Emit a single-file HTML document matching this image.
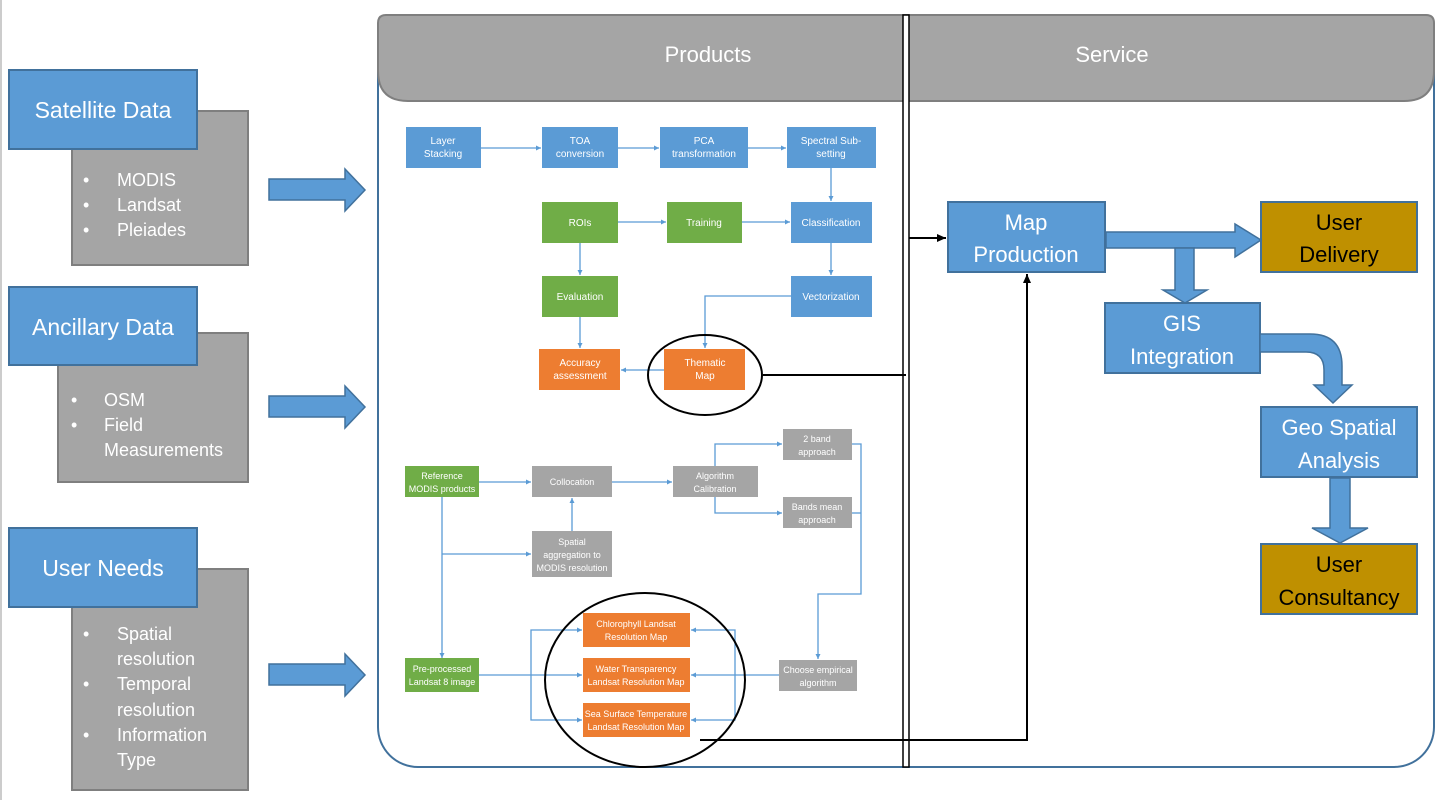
<!DOCTYPE html>
<html><head><meta charset="utf-8"><style>
body{margin:0;background:#fff}
svg{display:block}
text{font-family:"Liberation Sans",sans-serif}
</style></head><body>
<svg width="1439" height="800" viewBox="0 0 1439 800" xmlns="http://www.w3.org/2000/svg">
<defs>
<marker id="a" markerWidth="6" markerHeight="6" refX="5" refY="3" orient="auto" markerUnits="userSpaceOnUse"><path d="M0,0.5 L5,3 L0,5.5z" fill="#5B9BD5"/></marker>
<marker id="k" markerWidth="10" markerHeight="10" refX="9" refY="5" orient="auto" markerUnits="userSpaceOnUse"><path d="M0,1 L9,5 L0,9z" fill="#000"/></marker>
</defs>
<line x1="1" y1="0" x2="1" y2="800" stroke="#ccc" stroke-width="2"/>

<!-- left column -->
<g stroke-width="2">
<rect x="72" y="111" width="176" height="154" fill="#A5A5A5" stroke="#7F7F7F"/>
<rect x="9" y="70" width="188" height="79" fill="#5B9BD5" stroke="#41719C"/>
<rect x="58" y="333" width="190" height="149" fill="#A5A5A5" stroke="#7F7F7F"/>
<rect x="9" y="287" width="188" height="78" fill="#5B9BD5" stroke="#41719C"/>
<rect x="72" y="569" width="176" height="221" fill="#A5A5A5" stroke="#7F7F7F"/>
<rect x="9" y="528" width="188" height="79" fill="#5B9BD5" stroke="#41719C"/>
</g>
<g fill="#fff" font-size="23">
<text x="103" y="118" text-anchor="middle">Satellite Data</text>
<text x="103" y="335" text-anchor="middle">Ancillary Data</text>
<text x="103" y="576" text-anchor="middle">User Needs</text>
</g>
<g fill="#fff" font-size="18">
<text x="83" y="186">•</text><text x="117" y="186">MODIS</text>
<text x="83" y="211">•</text><text x="117" y="211">Landsat</text>
<text x="83" y="236">•</text><text x="117" y="236">Pleiades</text>
<text x="71" y="406">•</text><text x="104" y="406">OSM</text>
<text x="71" y="431">•</text><text x="104" y="431">Field</text>
<text x="104" y="456">Measurements</text>
<text x="83" y="640">•</text><text x="117" y="640">Spatial</text>
<text x="117" y="665">resolution</text>
<text x="83" y="690">•</text><text x="117" y="690">Temporal</text>
<text x="117" y="716">resolution</text>
<text x="83" y="741">•</text><text x="117" y="741">Information</text>
<text x="117" y="766">Type</text>
</g>
<g fill="#5B9BD5" stroke="#41719C" stroke-width="1.5">
<path d="M269,179 H345 V169 L365,190 L345,211 V200 H269z"/>
<path d="M269,396 H345 V386 L365,407 L345,428 V417 H269z"/>
<path d="M269,664 H345 V654 L365,675 L345,696 V685 H269z"/>
</g>

<!-- main container -->
<rect x="378" y="15" width="1056" height="752" rx="40" fill="#fff" stroke="#41719C" stroke-width="2"/>
<path d="M386,15 H1426 Q1434,15 1434,23 V71 Q1434,101 1404,101 H408 Q378,101 378,71 V23 Q378,15 386,15z" fill="#A5A5A5" stroke="#7F7F7F" stroke-width="2"/>
<text x="708" y="62" fill="#fff" font-size="22" text-anchor="middle">Products</text>
<text x="1112" y="62" fill="#fff" font-size="22" text-anchor="middle">Service</text>
<rect x="903" y="15" width="6" height="752" fill="#fff" stroke="#000" stroke-width="1.5"/>

<!-- small flow boxes -->
<g font-size="10" fill="#fff" text-anchor="middle">
<rect x="406" y="127" width="75" height="41" fill="#5B9BD5"/><text x="443" y="144">Layer</text><text x="443" y="157">Stacking</text>
<rect x="542" y="127" width="76" height="41" fill="#5B9BD5"/><text x="580" y="144">TOA</text><text x="580" y="157">conversion</text>
<rect x="660" y="127" width="88" height="41" fill="#5B9BD5"/><text x="704" y="144">PCA</text><text x="704" y="157">transformation</text>
<rect x="787" y="127" width="89" height="41" fill="#5B9BD5"/><text x="831" y="144">Spectral Sub-</text><text x="831" y="157">setting</text>
<rect x="542" y="202" width="76" height="41" fill="#70AD47"/><text x="580" y="226">ROIs</text>
<rect x="667" y="202" width="75" height="41" fill="#70AD47"/><text x="704" y="226">Training</text>
<rect x="791" y="202" width="81" height="41" fill="#5B9BD5"/><text x="831" y="226">Classification</text>
<rect x="542" y="276" width="76" height="41" fill="#70AD47"/><text x="580" y="300">Evaluation</text>
<rect x="791" y="276" width="81" height="41" fill="#5B9BD5"/><text x="831" y="300">Vectorization</text>
<rect x="539" y="349" width="81" height="41" fill="#ED7D31"/><text x="580" y="366">Accuracy</text><text x="580" y="379">assessment</text>
<rect x="664" y="349" width="81" height="41" fill="#ED7D31"/><text x="705" y="366">Thematic</text><text x="705" y="379">Map</text>

<g font-size="9">
<rect x="405" y="466" width="74" height="31" fill="#70AD47"/><text x="442" y="479">Reference</text><text x="442" y="492">MODIS products</text>
<rect x="532" y="466" width="80" height="31" fill="#A5A5A5"/><text x="572" y="485">Collocation</text>
<rect x="673" y="466" width="85" height="31" fill="#A5A5A5"/><text x="715" y="479">Algorithm</text><text x="715" y="492">Calibration</text>
<rect x="783" y="429" width="69" height="31" fill="#A5A5A5"/><text x="817" y="442">2 band</text><text x="817" y="455">approach</text>
<rect x="783" y="497" width="69" height="31" fill="#A5A5A5"/><text x="817" y="510">Bands mean</text><text x="817" y="523">approach</text>
<rect x="532" y="531" width="80" height="46" fill="#A5A5A5"/><text x="572" y="545">Spatial</text><text x="572" y="558">aggregation to</text><text x="572" y="571">MODIS resolution</text>
<rect x="405" y="658" width="74" height="34" fill="#70AD47"/><text x="442" y="672">Pre-processed</text><text x="442" y="685">Landsat 8 image</text>
<rect x="583" y="613" width="107" height="34" fill="#ED7D31"/><text x="636" y="627">Chlorophyll Landsat</text><text x="636" y="640">Resolution Map</text>
<rect x="583" y="658" width="107" height="34" fill="#ED7D31"/><text x="636" y="672">Water Transparency</text><text x="636" y="685">Landsat Resolution Map</text>
<rect x="583" y="703" width="107" height="34" fill="#ED7D31"/><text x="636" y="717">Sea Surface Temperature</text><text x="636" y="730">Landsat Resolution Map</text>
<rect x="779" y="660" width="78" height="31" fill="#A5A5A5"/><text x="818" y="673">Choose empirical</text><text x="818" y="686">algorithm</text>
</g>
</g>

<!-- thin blue connectors -->
<g stroke="#5B9BD5" stroke-width="1.3" fill="none" marker-end="url(#a)">
<path d="M481,148 H541"/><path d="M618,148 H659"/><path d="M748,148 H786"/>
<path d="M831,168 V201"/>
<path d="M618,222 H666"/><path d="M742,222 H790"/>
<path d="M831,243 V275"/>
<path d="M580,243 V275"/><path d="M580,317 V348"/>
<path d="M791,296 H705 V348"/>
<path d="M664,370 H621"/>
<path d="M479,482 H531"/><path d="M612,482 H672"/>
<path d="M715,466 V444 H782"/><path d="M715,497 V513 H782"/>
<path d="M572,531 V498"/>
<path d="M442,497 V658"/><path d="M442,554 H531"/>
<path d="M852,444 H861 V594 H818 V659"/>
<path d="M852,513 H861" marker-end="none"/>
<path d="M479,675 H582"/>
<path d="M531,675 V630 H582"/><path d="M531,675 V720 H582"/>
<path d="M779,675 H691"/>
<path d="M735,675 V630 H691"/><path d="M735,675 V720 H691"/>
</g>

<!-- ellipses and black connectors -->
<ellipse cx="705" cy="375" rx="57" ry="40" fill="none" stroke="#000" stroke-width="2"/>
<ellipse cx="645" cy="680" rx="100" ry="87" fill="none" stroke="#000" stroke-width="2"/>
<path d="M763,375 H906" stroke="#000" stroke-width="2" fill="none"/>
<path d="M700,740 H1027 V274" stroke="#000" stroke-width="2" fill="none" marker-end="url(#k)"/>
<path d="M909,238 H946" stroke="#000" stroke-width="2" fill="none" marker-end="url(#k)"/>

<!-- right side boxes -->
<g stroke-width="2">
<rect x="948" y="202" width="157" height="70" fill="#5B9BD5" stroke="#41719C"/>
<rect x="1261" y="202" width="156" height="70" fill="#BF9000" stroke="#41719C"/>
<rect x="1105" y="303" width="155" height="70" fill="#5B9BD5" stroke="#41719C"/>
<rect x="1261" y="407" width="156" height="70" fill="#5B9BD5" stroke="#41719C"/>
<rect x="1261" y="544" width="156" height="70" fill="#BF9000" stroke="#41719C"/>
</g>
<g font-size="22" text-anchor="middle">
<text x="1026" y="230" fill="#fff">Map</text><text x="1026" y="262" fill="#fff">Production</text>
<text x="1339" y="230" fill="#000">User</text><text x="1339" y="262" fill="#000">Delivery</text>
<text x="1182" y="331" fill="#fff">GIS</text><text x="1182" y="364" fill="#fff">Integration</text>
<text x="1339" y="435" fill="#fff">Geo Spatial</text><text x="1339" y="468" fill="#fff">Analysis</text>
<text x="1339" y="572" fill="#000">User</text><text x="1339" y="605" fill="#000">Consultancy</text>
</g>
<g fill="#5B9BD5" stroke="#41719C" stroke-width="1.5">
<path d="M1106,232 H1235 V224 L1261,240 L1235,257 V248 H1106z"/>
<path d="M1175,248 H1194 V290 H1207 L1185,303 L1163,290 H1175z"/>
<path d="M1260,334 H1310 Q1342,334 1342,366 V385 H1352 L1333,403 L1314,385 H1324 V370 Q1324,352 1306,352 H1260z"/>
<path d="M1330,478 H1350 V528 H1368 L1340,543 L1312,528 H1330z"/>
</g>
</svg>
</body></html>
